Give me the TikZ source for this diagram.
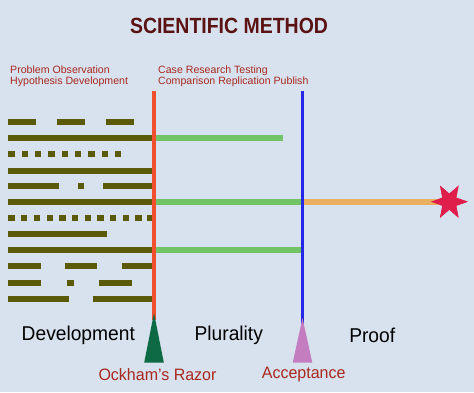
\documentclass[tikz,border=0pt]{standalone}
\usepackage{graphicx}
\usepackage{fontspec}
\setmainfont{Liberation Sans}
\usetikzlibrary{shapes.geometric}
\definecolor{bg}{HTML}{D8E2EF}
\definecolor{titlec}{HTML}{5A1212}
\definecolor{redtext}{HTML}{A8281E}
\definecolor{olive}{HTML}{5A5A08}
\definecolor{razorred}{HTML}{F0502E}
\definecolor{acceptblue}{HTML}{2428E6}
\definecolor{greenbar}{HTML}{72C266}
\definecolor{orangebar}{HTML}{E8B060}
\definecolor{starred}{HTML}{E01E4C}
\definecolor{darkgreen}{HTML}{0E6A44}
\definecolor{pinktri}{HTML}{C47EC0}
\tikzset{
  bar/.style={line width=6pt, draw=olive},
  sq/.style={fill=olive, minimum width=6.3pt, minimum height=6pt, inner sep=0pt, draw=none},
  greenline/.style={line width=6.3pt, draw=greenbar},
  smalltxt/.style={font=\fontsize{10.6}{11.5}\selectfont, text=redtext, anchor=north west, inner sep=0pt, align=left},
  phase/.style={font=\fontsize{20}{22}\selectfont, text=black, inner sep=0pt},
  milestone/.style={font=\fontsize{16.5}{18}\selectfont, text=redtext, inner sep=0pt},
  sixstar/.style={star, star points=6, star point ratio=2.3, minimum size=37pt, inner sep=0pt, fill=starred, shape border rotate=90},
}
\begin{document}
\begin{tikzpicture}[x=1pt,y=-1pt]
\fill[bg] (0,0) rectangle (474,392);
\useasboundingbox (0,0) rectangle (474,392);
% title
\node[font=\bfseries\fontsize{22}{24}\selectfont, text=titlec, inner sep=0pt] (title) at (229,26) {\scalebox{0.885}[1]{SCIENTIFIC METHOD}};
% small texts
\node[smalltxt] (dev) at (10,65.3) {Problem Observation\\Hypothesis Development};
\node[smalltxt] (plu) at (158,65.3) {Case Research Testing\\Comparison Replication Publish};
% coordinates for lines
\coordinate (rtop) at (154,91);
\coordinate (rbot) at (154,320);
\coordinate (btop) at (302.5,91);
\coordinate (bbot) at (302.5,325);
% green & orange lines
\coordinate (g1a) at (154,138.3); \coordinate (g1b) at (282.7,138.3);
\coordinate (g2a) at (154,201.7); \coordinate (g2b) at (302.5,201.7);
\coordinate (g3a) at (154,249.7); \coordinate (g3b) at (302.5,249.7);
\draw[greenline] (g1a) -- (g1b);
\draw[greenline] (g2a) -- (g2b);
\draw[greenline] (g3a) -- (g3b);
\node[sixstar] (star) at (449.3,201.7) {};
\draw[line width=6.3pt, draw=orangebar] (g2b) -- (star.center);
\node[sixstar] (startop) at (449.3,201.7) {};
% olive bars
% row 1
\draw[bar] (8.3,121.7) -- (36,121.7);
\draw[bar] (57.3,121.7) -- (85,121.7);
\draw[bar] (106,121.7) -- (134,121.7);
% row 2
\draw[bar] (8.3,138.3) -- (154,138.3);
% row 3
\foreach \i in {0,...,8} {\node[sq] at (11.6+13.3*\i,154) {};}
% row 4
\draw[bar] (8.3,170.7) -- (154,170.7);
% row 5
\draw[bar] (8.3,185.7) -- (59.3,185.7);
\node[sq] at (81.2,185.7) {};
\draw[bar] (103.3,185.7) -- (154,185.7);
% row 6
\draw[bar] (8.3,201.7) -- (154,201.7);
% row 7
\foreach \i in {0,...,10} {\node[sq] at (11.6+12.7*\i,218.3) {};}
\fill[olive] (147.3,215.3) rectangle (154,221.3);
% row 8
\draw[bar] (8.3,234.3) -- (107.3,234.3);
% row 9
\draw[bar] (8.3,250) -- (154,250);
% row 10
\draw[bar] (8.3,266) -- (40.7,266);
\draw[bar] (65.3,266) -- (97.3,266);
\draw[bar] (121.7,266) -- (154,266);
% row 11
\draw[bar] (8.3,282.7) -- (41.3,282.7);
\node[sq, minimum width=7.3pt] at (70.3,282.7) {};
\draw[bar] (99.3,282.7) -- (132.3,282.7);
% row 12
\draw[bar] (8.3,299.3) -- (69.3,299.3);
\draw[bar] (92.7,299.3) -- (154,299.3);
% vertical lines
\draw[line width=4pt, draw=razorred] (rtop) -- (rbot);
\draw[line width=3.6pt, draw=acceptblue] (btop) -- (bbot);
% triangles
\fill[darkgreen] (154,313) -- (163.8,362.5) -- (144.2,362.5) -- cycle;
\fill[pinktri] (302.5,318) -- (312.3,362.7) -- (292.7,362.7) -- cycle;
% bottom labels
\node[phase] (development) at (78.3,335) {\scalebox{0.96}[1]{Development}};
\node[phase] (plurality) at (228.8,335) {\scalebox{0.96}[1]{Plurality}};
\node[phase] (proof) at (372.2,335) {\scalebox{0.96}[1]{Proof}};
\node[milestone] (ockham) at (157.5,374.5) {\scalebox{0.97}[1]{Ockham's Razor}};
\node[milestone] (accept) at (303.7,374.5) {\scalebox{0.97}[1]{Acceptance}};
\end{tikzpicture}
\end{document}
